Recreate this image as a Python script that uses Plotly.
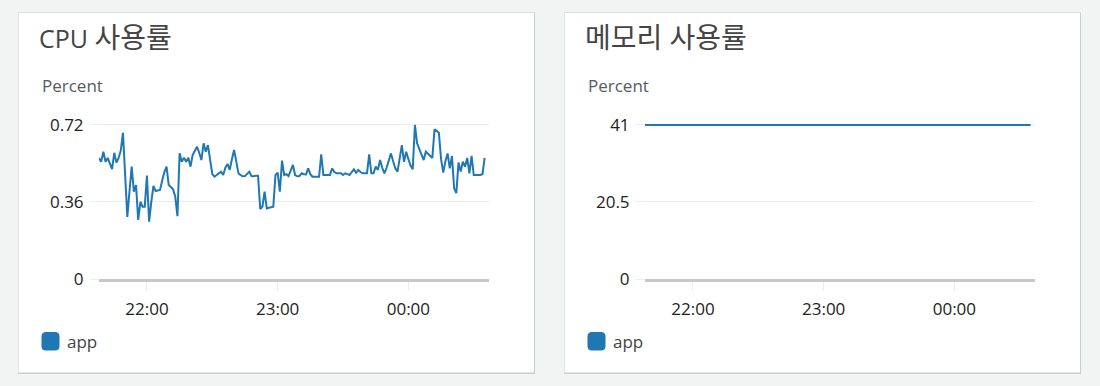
import plotly.graph_objects as go
import pandas as pd

# ---------------- data ----------------
start_time = "2024-01-01 21:38"
n_points = 178
times = pd.date_range(start_time, periods=n_points, freq="1min")

cpu_values = [
    0.566, 0.548, 0.595, 0.548, 0.566, 0.542, 0.514, 0.590, 0.544, 0.566,
    0.600, 0.683, 0.490, 0.290, 0.410, 0.525, 0.408, 0.439, 0.276, 0.361,
    0.338, 0.338, 0.483, 0.268, 0.360, 0.435, 0.411, 0.414, 0.416, 0.460,
    0.500, 0.525, 0.439, 0.430, 0.419, 0.385, 0.294, 0.588, 0.548, 0.567,
    0.548, 0.567, 0.525, 0.580, 0.600, 0.618, 0.590, 0.556, 0.634, 0.595,
    0.626, 0.560, 0.490, 0.478, 0.486, 0.490, 0.502, 0.486, 0.520, 0.538,
    0.510, 0.560, 0.603, 0.550, 0.494, 0.485, 0.480, 0.481, 0.490, 0.502,
    0.481, 0.480, 0.483, 0.483, 0.327, 0.338, 0.408, 0.330, 0.333, 0.335,
    0.338, 0.486, 0.497, 0.408, 0.553, 0.486, 0.490, 0.481, 0.510, 0.533,
    0.486, 0.480, 0.481, 0.494, 0.490, 0.489, 0.517, 0.490, 0.478, 0.478,
    0.478, 0.478, 0.583, 0.486, 0.486, 0.486, 0.486, 0.517, 0.500, 0.494,
    0.494, 0.494, 0.486, 0.494, 0.490, 0.486, 0.500, 0.513, 0.497, 0.510,
    0.500, 0.494, 0.494, 0.494, 0.583, 0.494, 0.494, 0.525, 0.510, 0.556,
    0.520, 0.494, 0.520, 0.550, 0.587, 0.550, 0.517, 0.502, 0.560, 0.626,
    0.548, 0.595, 0.560, 0.530, 0.513, 0.720, 0.634, 0.610, 0.580, 0.556,
    0.595, 0.585, 0.575, 0.566, 0.700, 0.690, 0.684, 0.560, 0.497, 0.550,
    0.587, 0.517, 0.575, 0.424, 0.401, 0.544, 0.502, 0.548, 0.525, 0.566,
    0.494, 0.576, 0.486, 0.486, 0.486, 0.486, 0.490, 0.566,
]
mem_values = [41.0] * n_points  # flat line at 41 %

cpu_ticks = [0, 0.36, 0.72]
cpu_ticktext = ["0", "0.36", "0.72"]
mem_ticks = [0, 20.5, 41]
mem_ticktext = ["0", "20.5", "41"]
x_ticks = ["2024-01-01 22:00", "2024-01-01 23:00", "2024-01-02 00:00"]
x_ticktext = ["22:00", "23:00", "00:00"]
titles = [("CPU ", "사용률"), ("", "메모리 사용률")]
unit_label = "Percent"
series_name = "app"

# ---------------- styling ----------------
W, H = 1100, 386
BLUE = "#1f77b4"
FONT = "Open Sans, Noto Sans CJK KR, sans-serif"
GRID = "#eaeded"


def px(x):
    return x / W


def py(y):
    return 1 - y / H


fig = go.Figure()
fig.add_trace(go.Scatter(x=times, y=cpu_values, mode="lines", name=series_name,
                         line=dict(color=BLUE, width=2), xaxis="x", yaxis="y",
                         showlegend=False))
fig.add_trace(go.Scatter(x=times, y=mem_values, mode="lines", name=series_name,
                         line=dict(color=BLUE, width=2), xaxis="x2", yaxis="y2",
                         showlegend=False))

ydom = [py(279), py(116.4)]
xaxis_common = dict(
    range=["2024-01-01 21:38:00", "2024-01-02 00:37:00"],
    tickvals=x_ticks, ticktext=x_ticktext,
    showgrid=False, zeroline=False,
    showline=True, linecolor="#c8c8c8", linewidth=3,
    ticks="outside", ticklen=9, tickcolor=GRID, tickwidth=1,
    tickfont=dict(family=FONT, size=17, color="#222222"),
    ticklabelstandoff=4,
    fixedrange=True, automargin=False,
)
yaxis_common = dict(
    showgrid=True, gridcolor=GRID, gridwidth=1, zeroline=False,
    showline=False, ticks="outside", ticklen=8, tickcolor=GRID,
    tickfont=dict(family=FONT, size=17, color="#222222"),
    ticklabelstandoff=3, domain=ydom, fixedrange=True, automargin=False,
)

fig.update_layout(
    width=W, height=H,
    margin=dict(l=0, r=0, t=0, b=0, pad=0, autoexpand=False),
    paper_bgcolor="#f2f3f3",
    plot_bgcolor="rgba(0,0,0,0)",
    showlegend=False,
    xaxis=dict(domain=[px(99), px(489)], anchor="y", **xaxis_common),
    xaxis2=dict(domain=[px(645), px(1035)], anchor="y2", **xaxis_common),
    yaxis=dict(range=[0, 0.76], tickvals=cpu_ticks, ticktext=cpu_ticktext,
               anchor="x", **yaxis_common),
    yaxis2=dict(range=[0, 41 * 0.76 / 0.72], tickvals=mem_ticks,
                ticktext=mem_ticktext, anchor="x2", **yaxis_common),
)

shapes = []
annotations = []
card_offsets = [0, 546]
for i, off in enumerate(card_offsets):
    x0, x1, y0, y1 = 18.5 + off, 534 + off, 13, 372.5
    # shadow
    shapes.append(dict(type="rect", xref="paper", yref="paper", layer="below",
                       x0=px(x0 - 0.5), x1=px(x1 + 1), y0=py(y1 + 1.5), y1=py(y0 - 0.5),
                       fillcolor="#c9cdce", line=dict(width=0)))
    shapes.append(dict(type="rect", xref="paper", yref="paper", layer="below",
                       x0=px(x0), x1=px(x1), y0=py(y1), y1=py(y0),
                       fillcolor="#ffffff", line=dict(width=0)))
    # legend rounded square
    lx0, lx1, ly0, ly1 = 41.5 + off, 59.5 + off, 332, 350.5
    r = 4.5
    rx, ry = r / W, r / H
    X0, X1, Y0, Y1 = px(lx0), px(lx1), py(ly1), py(ly0)
    path = (f"M {X0 + rx},{Y0} L {X1 - rx},{Y0} Q {X1},{Y0} {X1},{Y0 + ry} "
            f"L {X1},{Y1 - ry} Q {X1},{Y1} {X1 - rx},{Y1} "
            f"L {X0 + rx},{Y1} Q {X0},{Y1} {X0},{Y1 - ry} "
            f"L {X0},{Y0 + ry} Q {X0},{Y0} {X0 + rx},{Y0} Z")
    shapes.append(dict(type="path", xref="paper", yref="paper", path=path,
                       fillcolor=BLUE, line=dict(width=0)))
    annotations.append(dict(text=series_name, x=px(65 + off), y=py(341),
                            xref="paper", yref="paper", xanchor="left",
                            yanchor="middle", showarrow=False,
                            font=dict(family=FONT, size=17, color="#444444")))
    # title (latin part at 25px, hangul part a bit larger)
    latin, hangul = titles[i]
    title_text = f"{latin}<span style='font-size:28px'>{hangul}</span>"
    annotations.append(dict(text=title_text, x=px(37 + off), y=py(37),
                            xref="paper", yref="paper", xanchor="left",
                            yanchor="middle", showarrow=False,
                            font=dict(family=FONT, size=25, color="#444444")))
    # unit label
    annotations.append(dict(text=unit_label, x=px(40 + off), y=py(85.5),
                            xref="paper", yref="paper", xanchor="left",
                            yanchor="middle", showarrow=False,
                            font=dict(family=FONT, size=17, color="#545b64")))

fig.update_layout(shapes=shapes, annotations=annotations)
fig.write_html(
    "out.html",
    config={"displayModeBar": False, "staticPlot": True},
    post_script="document.body.style.margin='0';document.body.style.overflow='hidden';",
)
